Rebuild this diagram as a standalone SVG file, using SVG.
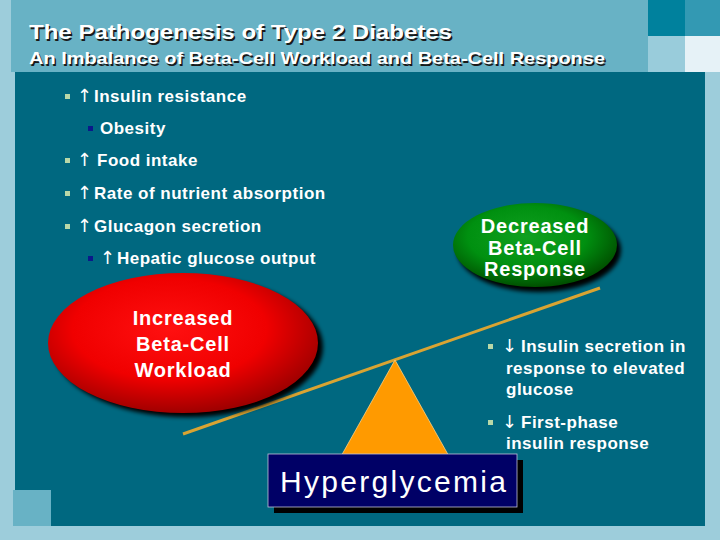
<svg xmlns="http://www.w3.org/2000/svg" width="720" height="540" viewBox="0 0 720 540">
<defs>
<radialGradient id="gRed" cx="0.45" cy="0.4" r="0.6">
<stop offset="0" stop-color="#ff1010"/>
<stop offset="0.6" stop-color="#f00000"/>
<stop offset="1" stop-color="#a00000"/>
</radialGradient>
<radialGradient id="gGreen" cx="0.45" cy="0.4" r="0.6">
<stop offset="0" stop-color="#10a020"/>
<stop offset="0.6" stop-color="#009010"/>
<stop offset="1" stop-color="#005000"/>
</radialGradient>
<filter id="blur" x="-10%" y="-10%" width="130%" height="130%"><feGaussianBlur stdDeviation="2"/></filter>
</defs>
<style>
.t{font-family:"Liberation Sans",Arial,sans-serif;font-weight:bold;fill:#fff}
.sh{fill:#1a1a1a}
.b{font-family:"Liberation Sans",Arial,sans-serif;font-weight:bold;font-size:17px;fill:#fff;letter-spacing:0.5px}
.ar{font-family:"DejaVu Sans",sans-serif;font-size:18px;fill:#fff}
.n{font-family:"Liberation Sans",Arial,sans-serif;font-weight:bold;font-size:20px;fill:#fff;text-anchor:middle;letter-spacing:0.8px}
.lb{fill:#b8d8a8}
.db{fill:#0a1a8a}
</style>
<rect width="720" height="540" fill="#9dcddb"/>
<rect x="11" y="0" width="637" height="72" fill="#68b2c5"/>
<rect x="648" y="0" width="37" height="36" fill="#00819d"/>
<rect x="685" y="0" width="35" height="36" fill="#3399b3"/>
<rect x="648" y="36" width="37" height="36" fill="#99ccdb"/>
<rect x="685" y="36" width="35" height="36" fill="#e6f2f7"/>
<rect x="15" y="72" width="690" height="454" fill="#006880"/>
<rect x="13" y="490" width="38" height="36" fill="#68b2c5"/>

<g id="title">
<text class="t sh" x="30.5" y="40.5" font-size="20.5" textLength="423" lengthAdjust="spacingAndGlyphs">The Pathogenesis of Type 2 Diabetes</text>
<text class="t" x="29" y="39" font-size="20.5" textLength="423" lengthAdjust="spacingAndGlyphs">The Pathogenesis of Type 2 Diabetes</text>
<text class="t sh" x="30.5" y="65.5" font-size="17" textLength="576" lengthAdjust="spacingAndGlyphs">An Imbalance of Beta-Cell Workload and Beta-Cell Response</text>
<text class="t" x="29" y="64" font-size="17" textLength="576" lengthAdjust="spacingAndGlyphs">An Imbalance of Beta-Cell Workload and Beta-Cell Response</text>
</g>

<g id="left-bullets">
<rect class="lb" x="65" y="94" width="5" height="5"/>
<text class="ar" x="77" y="102">↑</text>
<text class="b" x="94" y="102">Insulin resistance</text>
<rect class="db" x="88" y="126" width="5" height="5"/>
<text class="b" x="100" y="134">Obesity</text>
<rect class="lb" x="65" y="158" width="5" height="5"/>
<text class="ar" x="77" y="166">↑</text>
<text class="b" x="97" y="166">Food intake</text>
<rect class="lb" x="65" y="191" width="5" height="5"/>
<text class="ar" x="77" y="199">↑</text>
<text class="b" x="94" y="199">Rate of nutrient absorption</text>
<rect class="lb" x="65" y="224" width="5" height="5"/>
<text class="ar" x="77" y="232">↑</text>
<text class="b" x="94" y="232">Glucagon secretion</text>
<rect class="db" x="88" y="256" width="5" height="5"/>
<text class="ar" x="100" y="264">↑</text>
<text class="b" x="117" y="264">Hepatic glucose output</text>
</g>

<g id="right-bullets">
<rect class="lb" x="488" y="344" width="5" height="5"/>
<text class="ar" x="502" y="352">↓</text>
<text class="b" x="521" y="352">Insulin secretion in</text>
<text class="b" x="506" y="374">response to elevated</text>
<text class="b" x="506" y="395">glucose</text>
<rect class="lb" x="488" y="420" width="5" height="5"/>
<text class="ar" x="502" y="428">↓</text>
<text class="b" x="521" y="428">First-phase</text>
<text class="b" x="506" y="449">insulin response</text>
</g>

<g id="connectors">
<line x1="183" y1="434" x2="600" y2="288" stroke="#d9a432" stroke-width="3"/>
</g>

<g id="fulcrum">
<polygon points="395,360 335,467 455,467" fill="#ff9a00" stroke="#ffd080" stroke-width="0.8"/>
</g>

<g id="workload">
<ellipse cx="188" cy="347" rx="135" ry="70" fill="#000" filter="url(#blur)"/>
<ellipse cx="183" cy="343" rx="135" ry="70" fill="url(#gRed)"/>
<text class="n" x="183" y="325">Increased</text>
<text class="n" x="183" y="351">Beta-Cell</text>
<text class="n" x="183" y="377">Workload</text>
</g>

<g id="response">
<ellipse cx="539" cy="250" rx="82" ry="42" fill="#000" filter="url(#blur)"/>
<ellipse cx="535" cy="245" rx="82" ry="42" fill="url(#gGreen)"/>
<text class="n" x="535" y="233" font-size="19">Decreased</text>
<text class="n" x="535" y="255" font-size="19">Beta-Cell</text>
<text class="n" x="535" y="276" font-size="19">Response</text>
</g>

<g id="hyperglycemia">
<rect x="274" y="460" width="249" height="53" fill="#000"/>
<rect x="268" y="454" width="249" height="53" fill="#000066" stroke="#c0c0d8" stroke-width="0.8"/>
<text x="280" y="492" font-family="Liberation Sans,Arial,sans-serif" font-size="30" fill="#fff" letter-spacing="2.3">Hyperglycemia</text>
</g>
</svg>
